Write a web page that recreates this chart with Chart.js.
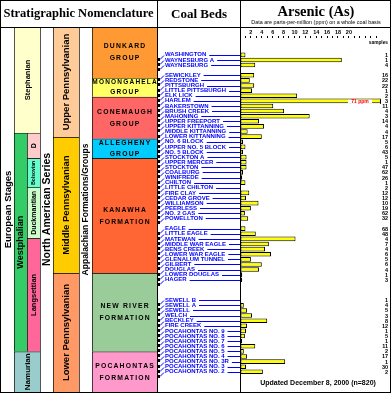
<!doctype html>
<html>
<head>
<meta charset="utf-8">
<title>Arsenic (As) in West Virginia coal beds</title>
<script src="https://cdn.jsdelivr.net/npm/chart.js"></script>
<style>
  body { margin: 0; background: #fff; }
  #sheet { position: relative; width: 391px; height: 393px; background: #fff; overflow: hidden;
           font-family: "Liberation Sans", Arial, sans-serif; color: #000; }
  .box { position: absolute; }
  .rule { position: absolute; background: #000; }
  .head { position: absolute; text-align: center; white-space: nowrap; font-weight: bold;
          font-family: "Liberation Serif", "Times New Roman", serif; }
  #frame { position: absolute; left: 0; top: 0; width: 391px; height: 393px; border: 1px solid #000;
           box-sizing: border-box; pointer-events: none; }
</style>
</head>
<body>
<div id="sheet">
  <div class="box" style="left:1px;top:27px;width:156px;height:365px"><canvas id="strat" width="156" height="365"></canvas></div>
  <div class="box" style="left:158px;top:28px;width:232px;height:364px"><canvas id="arsenic" width="232" height="364"></canvas></div>

  <div class="rule" style="left:0;top:27px;width:391px;height:1px"></div>
  <div class="rule" style="left:157px;top:0;width:1px;height:393px"></div>
  <div class="rule" style="left:240px;top:0;width:1px;height:393px"></div>

  <div class="head" style="left:0;top:0;width:157px;line-height:27px;font-size:12.5px">Stratigraphic Nomenclature</div>
  <div class="head" style="left:158px;top:0;width:82px;line-height:27px;font-size:13px">Coal Beds</div>
  <div class="head" style="left:241px;top:3px;width:150px;line-height:16px;font-size:14.5px">Arsenic (As)</div>
  <div class="box" style="left:241px;top:19px;width:150px;text-align:center;font-size:5.4px;line-height:6px">Data are parts-per-million (ppm) on a whole coal basis</div>
  <div class="box" style="left:246px;top:379px;width:144px;text-align:center;font-size:7px;font-weight:bold;line-height:8px">Updated December 8, 2000 (n=820)</div>
  <div id="frame"></div>
</div>

<script>
// ---- coal beds, youngest at the top; '' is an empty row of the column ----
const bedNames = [
  'WASHINGTON', 'WAYNESBURG A', 'WAYNESBURG', '',
  'SEWICKLEY', 'REDSTONE', 'PITTSBURGH', 'LITTLE PITTSBURGH', 'ELK LICK', 'HARLEM', 'BAKERSTOWN',
  'BRUSH CREEK', 'MAHONING', 'UPPER FREEPORT', 'UPPER KITTANNING', 'MIDDLE KITTANNING', 'LOWER KITTANNING',
  'NO. 6 BLOCK', 'UPPER NO. 5 BLOCK', 'NO. 5 BLOCK', 'STOCKTON A', 'UPPER MERCER', 'STOCKTON', 'COALBURG',
  'WINIFREDE', 'CHILTON', 'LITTLE CHILTON', 'FIRE CLAY', 'CEDAR GROVE', 'WILLIAMSON', 'PEERLESS', 'NO. 2 GAS',
  'POWELLTON', '',
  'EAGLE', 'LITTLE EAGLE', 'MATEWAN', 'MIDDLE WAR EAGLE', 'BENS CREEK', 'LOWER WAR EAGLE', 'GLENALUM TUNNEL',
  'GILBERT', 'DOUGLAS', 'LOWER DOUGLAS', 'HAGER', '', '', '',
  'SEWELL B', 'SEWELL A', 'SEWELL', 'WELCH', 'BECKLEY', 'FIRE CREEK',
  'POCAHONTAS NO. 9', 'POCAHONTAS NO. 8', 'POCAHONTAS NO. 7', 'POCAHONTAS NO. 6', 'POCAHONTAS NO. 5',
  'POCAHONTAS NO. 4', 'POCAHONTAS NO. 3R', 'POCAHONTAS NO. 3', 'POCAHONTAS NO. 2'
];
// mean arsenic, ppm whole coal
const arsenicPpm = [
  1.0, 18.7, 2.8, null,
  2.6, 1.8, 2.6, 2.2, 10.5, 71, 6.1, 8.1, 12.8, 3.5, 4.4, 1.4, 4.0,
  0.55, 1.0, 0.55, 1.2, 1.2, 1.2, 0.55, 0.4, 1.0, 0.2, 1.7, 1.1, 3.4, 2.0, 0.9, 1.5, null,
  1.0, 2.9, 10.2, 5.3, 4.6, 5.7, 2.0, 4.0, 3.5, 0.4, 0.4, null, null, null,
  0.2, 0.7, 1.3, 2.2, 5.0, 1.3,
  1.1, 0.9, 0.4, 2.8, 0.7, 1.3, 8.3, 1.1, 4.2
];
const sampleCounts = [
  1, 1, 4, null,
  16, 22, 22, 1, 2, 3, 11, 4, 3, 14, 4, 4, 17,
  5, 6, 43, 5, 1, 47, 62, 26, 1, 2, 12, 12, 10, 19, 62, 32, null,
  68, 48, 4, 7, 4, 6, 5, 6, 4, 1, 3, null, null, null,
  1, 4, 5, 3, 8, 12,
  1, 5, 1, 11, 2, 17, 1, 30, 2
];
const ppmTickLabels = [2, 4, 6, 8, 10, 12, 14, 16, 18, 20];

// ---- stratigraphic nomenclature ----
const stratColumns = ['stages-label', 'stage', 'substage', 'series-label', 'series-a', 'series-b',
  'groups-label', 'group-a', 'group-b', 'group-c', 'group-d', 'group-e'];
const unitNames = [
  'European Stages', 'Stephanian', 'Westphalian', 'D', 'Bolsovian', 'Duckmantian', 'Langsettian', 'Namurian',
  'North American Series', 'Upper Pennsylvanian', 'Middle Pennsylvanian', 'Lower Pennsylvanian',
  'Appalachian Formations/Groups',
  'DUNKARD\nGROUP', 'MONONGAHELA\nGROUP', 'CONEMAUGH\nGROUP', 'ALLEGHENY\nGROUP',
  'KANAWHA\nFORMATION', 'NEW RIVER\nFORMATION', 'POCAHONTAS\nFORMATION'
];
// top and base of each unit, counted in coal-bed rows
const unitTop  = [-4.9, -4.9, 15.5, 15.5, 20.4, 26.0, 35.8, 57.6, -4.9, -4.9, 16.3, 42.5, -4.9,
  -4.9, 4.9, 8.55, 16.6, 20.4, 42.5, 57.6];
const unitBase = [65.4, 15.5, 57.6, 20.4, 26.0, 35.8, 57.6, 65.4, 65.4, 16.3, 42.5, 65.4, 65.4,
  4.9, 8.55, 16.6, 20.4, 42.5, 57.6, 65.4];
const unitFirstCol = [0, 1, 1, 2, 2, 2, 2, 1, 3, 4, 4, 4, 6, 7, 7, 7, 7, 7, 7, 7];
const unitLastCol  = [0, 2, 1, 2, 2, 2, 2, 2, 3, 5, 5, 5, 6, 11, 11, 11, 11, 11, 11, 11];

// styles
const unitFill = ['#ffffff', '#ffffcc', '#33cc66', '#ffcccc', '#66ffcc', '#ccffcc', '#ff6699', '#99cccc',
  '#ffffff', '#ffcc99', '#ffcc00', '#ff9966', '#ffffff',
  '#ff9933', '#ffff66', '#ff6666', '#00ccff', '#ff6633', '#99cc99', '#ff99cc'];
const unitFontSize = [9.5, 7.5, 9, 7, 5, 7, 7.5, 8, 10.5, 9.5, 9.5, 9.5, 8.5, 6.8, 6.5, 6.8, 6.8, 6.8, 6.8, 6.8];
const FAMILY = '"Liberation Sans", Arial, sans-serif';
const bedFont = {family: FAMILY, size: 6, weight: 'bold', lineHeight: 1};
const bedFontString = 'bold 6px ' + FAMILY;

Chart.defaults.font.family = FAMILY;
Chart.defaults.animation = false;

var stratLabels = {
  id: 'stratLabels',
  afterDatasetsDraw(chart) {
    const ctx = chart.ctx;
    unitNames.forEach((name, d) => {
      const bars = chart.getDatasetMeta(d).data;
      const a = bars[unitFirstCol[d]], b = bars[unitLastCol[d]];
      const cx = (a.x + b.x) / 2;
      const top = Math.min(a.y, a.base), bottom = Math.max(a.y, a.base);
      const cy = (top + bottom) / 2;
      const lines = name.split('\n');
      ctx.save();
      ctx.fillStyle = '#000';
      ctx.textAlign = 'center';
      ctx.textBaseline = 'middle';
      ctx.font = 'bold ' + unitFontSize[d] + 'px ' + FAMILY;
      if (lines.length > 1) {
        ctx.letterSpacing = '1.2px';
        const gap = Math.min(12, (bottom - top) * 0.55);
        ctx.fillText(lines[0], cx + 0.6, cy - gap / 2);
        ctx.fillText(lines[1], cx + 0.6, cy + gap / 2);
        ctx.letterSpacing = '0px';
      } else {
        ctx.translate(cx + 0.5, cy);
        ctx.rotate(-Math.PI / 2);
        ctx.fillText(name, 0, 0);
      }
      ctx.restore();
    });
  }
};

new Chart(document.getElementById('strat'), {
  type: 'bar',
  data: {
    labels: stratColumns,
    datasets: unitNames.map((name, d) => ({
      label: name,
      data: stratColumns.map((c, k) =>
        (k >= unitFirstCol[d] && k <= unitLastCol[d]) ? [unitTop[d], unitBase[d]] : null),
      backgroundColor: unitFill[d],
      borderColor: '#000',
      borderWidth: (c) => ({top: 1, right: 0, bottom: 0,
        left: (c.dataIndex === unitFirstCol[d] && c.dataIndex > 0) ? 1 : 0}),
      borderSkipped: false,
      grouped: false,
      barPercentage: 1,
      categoryPercentage: 1
    }))
  },
  options: {
    responsive: false,
    layout: {padding: 0},
    plugins: {legend: {display: false}, tooltip: {enabled: false}},
    scales: {
      x: {display: false},
      y: {display: false, type: 'linear', reverse: true, min: -4.9, max: 65.4}
    }
  },
  plugins: [stratLabels]
});

var bedDecor = {
  id: 'bedDecor',
  afterDraw(chart) {
    const {ctx, chartArea, scales: {x, y}} = chart;
    ctx.save();
    ctx.lineWidth = 1;
    ctx.textBaseline = 'middle';
    bedNames.forEach((name, i) => {
      if (!name) return;
      const py = Math.round(y.getPixelForValue(i)) + 0.5;
      ctx.font = bedFontString;
      const w = ctx.measureText(name).width;
      // leader to the bar axis and slanted tie back to the column
      ctx.strokeStyle = '#0000ff';
      ctx.beginPath();
      ctx.moveTo(y.left + w + 3, py);
      ctx.lineTo(chartArea.left, py);
      ctx.moveTo(2, py + 4);
      ctx.lineTo(y.left - 1, py);
      ctx.stroke();
      ctx.fillStyle = '#000';
      ctx.fillRect(0, py + 2.5, 2, 3);

      if (sampleCounts[i] !== null) {
        ctx.font = 'bold 5.5px ' + FAMILY;
        ctx.textAlign = 'right';
        ctx.fillText(String(sampleCounts[i]), chart.width - 2, py);
      }
      const v = arsenicPpm[i];
      if (v !== null && v > x.max) {
        const r = chartArea.right;
        ctx.fillStyle = '#fff';
        ctx.fillRect(r - 33, py - 1.7, 24, 3.4);
        ctx.fillStyle = '#ff0000';
        ctx.font = 'bold 5px ' + FAMILY;
        ctx.textAlign = 'center';
        ctx.fillText(v + ' ppm', r - 21, py);
        ctx.fillStyle = '#000';
        ctx.fillRect(r - 1, py - 2.3, 1, 4.6);
      }
    });
    ctx.fillStyle = '#000';
    ctx.font = 'bold 4.8px ' + FAMILY;
    ctx.textAlign = 'right';
    ctx.fillText('samples', chart.width - 2, 15);
    ctx.restore();
  }
};

new Chart(document.getElementById('arsenic'), {
  type: 'bar',
  data: {
    datasets: [{
      label: 'Arsenic (ppm)',
      data: bedNames.map((n, i) => arsenicPpm[i] === null ? null : {x: arsenicPpm[i], y: i}).filter(p => p),
      backgroundColor: '#ffff00',
      borderColor: '#000',
      borderWidth: 1,
      borderSkipped: false,
      barPercentage: 0.9,
      categoryPercentage: 1,
      clip: {left: 2, top: 2, right: 0, bottom: 2}
    }]
  },
  options: {
    indexAxis: 'y',
    responsive: false,
    layout: {padding: {left: 7, right: 9, top: 0, bottom: 14}},
    plugins: {legend: {display: false}, tooltip: {enabled: false}},
    scales: {
      x: {
        type: 'linear', position: 'top', min: 0, max: 25.9, display: true,
        afterFit: (s) => { s.height = 10; },
        border: {display: false},
        grid: {display: true, drawOnChartArea: false, drawTicks: true, tickLength: 2, color: '#000', lineWidth: 1},
        ticks: {
          display: true, stepSize: 1, autoSkip: false, includeBounds: false, maxRotation: 0, minRotation: 0,
          padding: 1, color: '#000', font: {size: 5.5, weight: 'bold', lineHeight: 1},
          callback: (v) => ppmTickLabels.includes(Math.round(v)) ? String(Math.round(v)) : ''
        }
      },
      y: {
        type: 'linear', reverse: true, min: -2.78, max: 62.7,
        afterFit: (s) => { s.width = 75; },
        border: {display: false},
        grid: {display: false},
        ticks: {
          stepSize: 1, autoSkip: false, includeBounds: false, crossAlign: 'far', padding: 0,
          color: '#0000ff', font: bedFont,
          callback: (v) => bedNames[v] || ''
        }
      }
    }
  },
  plugins: [bedDecor]
});
</script>
</body>
</html>
